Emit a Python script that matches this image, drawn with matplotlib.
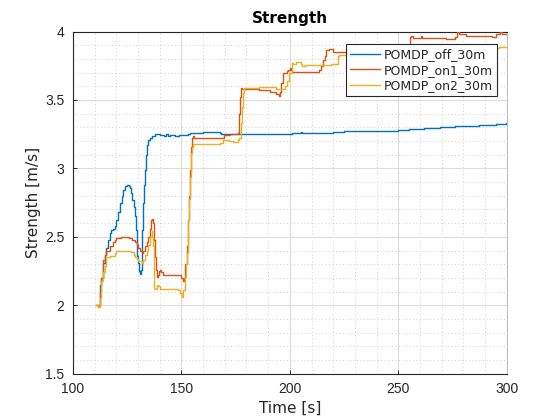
import matplotlib
matplotlib.use("Agg")
import matplotlib.pyplot as plt
from matplotlib.ticker import MultipleLocator, FixedLocator

# ---------------- data ----------------
t_off = [111, 112, 112.4, 113.2, 114.0, 114.8, 115.5, 116.3, 117.0, 117.8, 118.6, 119.4,
         120.1, 120.9, 121.7, 122.5, 123.2, 124.0, 125.0, 125.7, 126.3, 127.0, 127.5,
         128.1, 128.6, 129.0, 129.4, 129.8, 130.1, 130.5, 130.9, 131.3, 131.7, 132.0,
         132.4, 132.8, 133.2, 133.6, 134.0, 134.7, 135.5, 136.3, 137.8, 140, 142, 143,
         144, 145, 147, 148, 149, 151, 153, 154, 160, 167.7, 168.5, 175, 181, 191.6,
         192, 200, 201, 205, 205.5, 210, 215, 220, 225, 228, 228.5, 240, 245, 250,
         255, 258.5, 262, 264, 269, 275, 276, 280, 285, 287, 291, 295, 299.5, 300]
v_off = [2.0, 2.0, 2.15, 2.2, 2.31, 2.37, 2.42, 2.48, 2.53, 2.55, 2.56, 2.58,
         2.62, 2.68, 2.75, 2.80, 2.84, 2.87, 2.88, 2.875, 2.86, 2.82, 2.77,
         2.72, 2.65, 2.55, 2.45, 2.36, 2.31, 2.25, 2.23, 2.26, 2.38, 2.55,
         2.75, 2.88, 2.99, 3.10, 3.17, 3.21, 3.22, 3.24, 3.25, 3.245, 3.24, 3.25,
         3.235, 3.245, 3.24, 3.235, 3.245, 3.245, 3.25, 3.262, 3.263, 3.262, 3.25, 3.25, 3.248, 3.249,
         3.252, 3.254, 3.258, 3.265, 3.258, 3.26, 3.262, 3.265, 3.27, 3.275, 3.27, 3.272, 3.276, 3.28,
         3.285, 3.29, 3.295, 3.292, 3.30, 3.302, 3.308, 3.31, 3.312, 3.318, 3.32, 3.322, 3.33, 3.33]

t_on1 = [110.5, 111.5, 112.0, 112.4, 113.2, 114.0, 114.8, 115.5, 117.0, 118.6, 119.4,
         120.1, 122, 124, 126, 127.5, 128.6, 129.4, 130.1, 131.0, 131.7, 132.4, 133.2,
         134.0, 134.7, 135.5, 136.0, 136.6, 137.0, 137.4, 137.8, 138.2, 138.6, 139.2,
         139.7, 140.1, 140.8, 141.7, 145, 149.3, 150.0, 150.8, 151.3, 151.8, 152.4,
         153.1, 153.5, 153.9, 154.3, 154.7, 155.0, 155.4, 155.8, 157, 160, 165, 169,
         169.5, 172.4, 175, 176.0, 176.5, 177.2, 177.7, 178, 185, 186, 190, 191, 193,
         193.8, 195, 195.6, 196, 197, 198.5, 199.3, 200, 200.7, 201, 212.5, 213.3,
         214.6, 215.4, 216, 216.8, 218, 219.5, 220, 225, 230, 240, 250, 255, 255.5,
         256, 257, 260, 260.5, 261, 271, 272, 275, 276, 277, 278, 280, 281, 292, 293,
         294, 295, 296, 297, 298, 300]
v_on1 = [2.0, 1.99, 2.0, 2.1, 2.2, 2.33, 2.37, 2.40, 2.43, 2.46, 2.48,
         2.49, 2.50, 2.50, 2.49, 2.48, 2.46, 2.44, 2.42, 2.40, 2.38, 2.40, 2.43,
         2.46, 2.50, 2.56, 2.62, 2.63, 2.60, 2.48, 2.35, 2.26, 2.21, 2.22,
         2.25, 2.26, 2.24, 2.22, 2.22, 2.22, 2.20, 2.18, 2.20, 2.30, 2.43,
         2.62, 2.80, 2.99, 3.08, 3.16, 3.22, 3.24, 3.22, 3.22, 3.225, 3.22, 3.225,
         3.245, 3.25, 3.25, 3.26, 3.40, 3.52, 3.59, 3.58, 3.58, 3.57, 3.57, 3.555, 3.556,
         3.54, 3.53, 3.56, 3.625, 3.70, 3.71, 3.72, 3.735, 3.72, 3.705, 3.705, 3.72,
         3.75, 3.79, 3.82, 3.864, 3.87, 3.87, 3.85, 3.85, 3.84, 3.85, 3.85, 3.85, 3.96,
         3.967, 3.955, 3.955, 3.965, 3.95, 3.95, 3.945, 3.945, 3.96, 3.995, 3.985, 3.985, 3.97, 3.97, 3.96,
         3.96, 3.98, 3.98, 4.0, 3.985, 3.985]

t_on2 = [110.5, 111.5, 112.0, 112.6, 113.2, 114.0, 114.8, 115.5, 117, 118.6, 119.4, 120,
         122, 125.5, 127, 128.0, 128.6, 129.4, 130, 131.7, 132.4, 133.2, 134, 134.7,
         135.5, 136.3, 136.7, 137.0, 137.3, 137.5, 138.0, 138.6, 139.3, 140, 145, 147,
         148.5, 149.3, 150.1, 150.6, 151, 151.5, 152.0, 152.4, 153.1, 153.5, 153.9,
         154.3, 154.7, 155.0, 155.4, 160, 165, 167.7, 169, 171, 172, 174, 175, 176,
         176.8, 177.5, 178, 178.5, 179, 186, 193, 193.5, 197, 198, 198.8, 199.8, 200.9,
         201.7, 203, 205, 205.6, 207, 218.5, 219, 221, 222, 222.8, 225, 240, 260, 292,
         293, 293.5, 296, 296.5, 300]
v_on2 = [2.0, 1.99, 1.99, 2.05, 2.18, 2.24, 2.29, 2.35, 2.36, 2.36, 2.38, 2.40,
         2.40, 2.40, 2.39, 2.37, 2.35, 2.34, 2.325, 2.31, 2.33, 2.37, 2.40, 2.44,
         2.50, 2.54, 2.50, 2.43, 2.25, 2.13, 2.12, 2.15, 2.14, 2.12, 2.12, 2.12,
         2.11, 2.09, 2.06, 2.08, 2.11, 2.21, 2.30, 2.38, 2.62, 2.78, 2.94,
         3.04, 3.11, 3.16, 3.18, 3.175, 3.175, 3.185, 3.21, 3.21, 3.20, 3.19, 3.19, 3.21,
         3.22, 3.33, 3.45, 3.55, 3.59, 3.595, 3.593, 3.58, 3.58, 3.60, 3.64, 3.70, 3.77,
         3.76, 3.775, 3.76, 3.75, 3.757, 3.757, 3.76, 3.76, 3.82, 3.83, 3.83, 3.84, 3.88, 3.89,
         3.89, 3.88, 3.88, 3.89, 3.89]

series_names = ["POMDP_off_30m", "POMDP_on1_30m", "POMDP_on2_30m"]
x_ticks = [100, 150, 200, 250, 300]
y_ticks = [1.5, 2, 2.5, 3, 3.5, 4]
y_tick_labels = ["1.5", "2", "2.5", "3", "3.5", "4"]

# ---------------- figure ----------------
colors = ["#0072BD", "#D95319", "#EDB120"]
fig = plt.figure(figsize=(5.6, 4.2), dpi=100)
ax = fig.add_axes([0.13, 0.11, 0.775, 0.815])

for t, v, c, n in zip([t_off, t_on1, t_on2], [v_off, v_on1, v_on2], colors, series_names):
    ax.plot(t, v, color=c, lw=1.0, drawstyle="steps-post", label=n, zorder=3)

ax.set_xlim(100, 300)
ax.set_ylim(1.5, 4)
ax.xaxis.set_major_locator(FixedLocator(x_ticks))
ax.yaxis.set_major_locator(FixedLocator(y_ticks))
ax.set_yticklabels(y_tick_labels)
ax.xaxis.set_minor_locator(MultipleLocator(10))
ax.yaxis.set_minor_locator(MultipleLocator(0.1))

ax.grid(True, which="major", color="#dcdcdc", lw=0.8, zorder=0)
ax.grid(True, which="minor", color="#c2c2c2", lw=0.6, linestyle=(0, (1, 3.2)), zorder=0)
ax.set_axisbelow(True)

ax.tick_params(which="major", direction="in", length=3, width=0.7, colors="#262626",
               labelsize=10, pad=6, top=False, right=False)
ax.tick_params(which="minor", length=0)
for lab in ax.get_xticklabels() + ax.get_yticklabels():
    lab.set_fontfamily("Liberation Sans")

for s in ["left", "bottom", "top"]:
    ax.spines[s].set_color("#262626")
    ax.spines[s].set_linewidth(0.8)
ax.spines["right"].set_color("#bfbfbf")
ax.spines["right"].set_linewidth(0.8)

ax.set_title("Strength", fontsize=11, fontweight="bold", family="DejaVu Sans", pad=6, color="black")
ax.set_xlabel("Time [s]", fontsize=11, family="DejaVu Sans", labelpad=3, color="#262626")
ax.set_ylabel("Strength [m/s]", fontsize=11, family="DejaVu Sans", labelpad=3, color="#262626")

leg = ax.legend(loc="upper right", bbox_to_anchor=(0.977, 0.963), fontsize=9,
                frameon=True, fancybox=False, framealpha=1, edgecolor="#262626",
                borderpad=0.3, labelspacing=0.22, handlelength=2.4, handletextpad=0.35,
                borderaxespad=0)
leg.get_frame().set_linewidth(0.8)
for txt in leg.get_texts():
    txt.set_color("#262626")

fig.savefig("out.png", dpi=100)
